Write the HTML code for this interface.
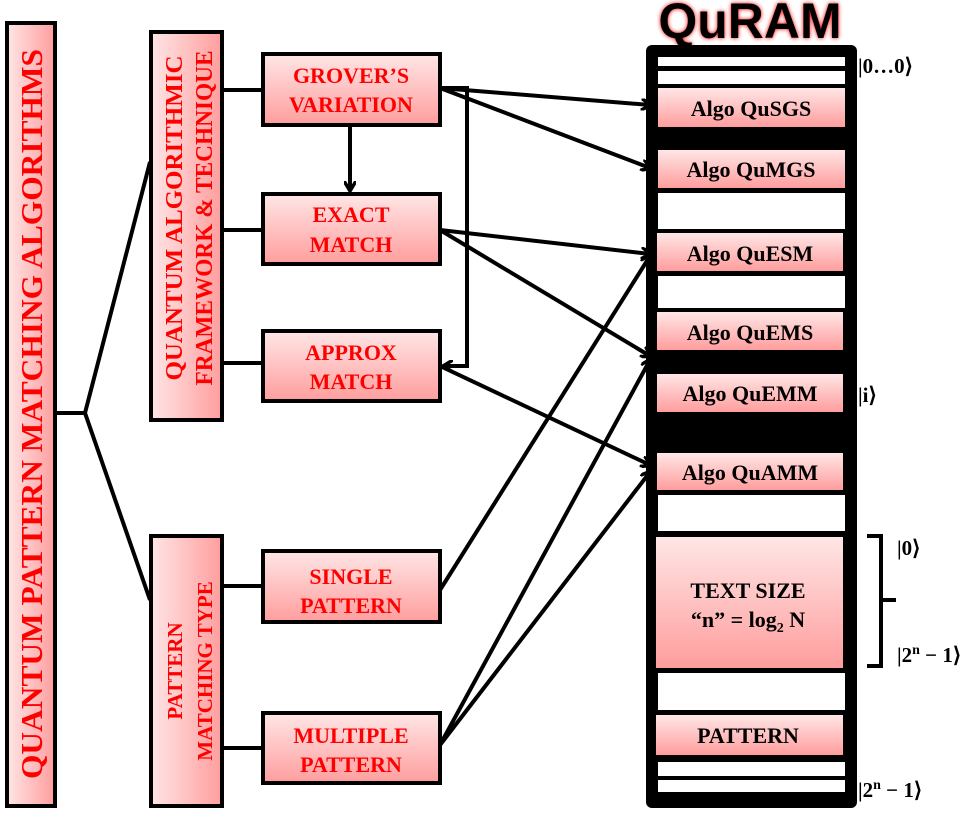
<!DOCTYPE html>
<html><head><meta charset="utf-8"><style>body{margin:0;background:#fff}svg{display:block}</style></head><body>
<svg width="969" height="816" viewBox="0 0 969 816" xmlns="http://www.w3.org/2000/svg" font-family="Liberation Serif, serif" font-weight="bold">
<defs>
<linearGradient id="gv" x1="0" y1="0" x2="0" y2="1"><stop offset="0" stop-color="#ffe6e6"/><stop offset="1" stop-color="#ff9d9d"/></linearGradient>
<linearGradient id="gh" x1="0" y1="0" x2="1" y2="0"><stop offset="0" stop-color="#ffe6e6"/><stop offset="1" stop-color="#ff9d9d"/></linearGradient>
<marker id="ar" markerWidth="12" markerHeight="12" refX="9" refY="6" orient="auto" markerUnits="userSpaceOnUse"><path d="M0,0 L10,6 L0,12" fill="none" stroke="#000" stroke-width="3.5"/></marker>
<filter id="glow"><feDropShadow dx="0" dy="0" stdDeviation="2" flood-color="#e00"/></filter>
</defs>
<g stroke="#000" stroke-width="4">
<rect x="7" y="23" width="48" height="783" fill="url(#gh)"/>
<rect x="151" y="32" width="71" height="388" fill="url(#gh)"/>
<rect x="151" y="536" width="71" height="270" fill="url(#gh)"/>
<rect x="263" y="54" width="177" height="71" fill="url(#gv)"/>
<rect x="263" y="194" width="177" height="70" fill="url(#gv)"/>
<rect x="263" y="331" width="177" height="70" fill="url(#gv)"/>
<rect x="263" y="551" width="177" height="71" fill="url(#gv)"/>
<rect x="263" y="713" width="177" height="70" fill="url(#gv)"/>
</g>
<g stroke="#000" stroke-width="4" fill="none">
<path d="M55,413 H85 M85,413 L150,162 M85,413 L150,600"/>
<path d="M224,90 H263 M224,230 H263 M224,363 H263 M224,586 H263 M224,748 H263"/>
<path d="M350,125 V190" marker-end="url(#ar)"/>
<path d="M440,88 H467 V366 H444" marker-end="url(#ar)"/>
<path d="M440,88 L650,105" marker-end="url(#ar)"/>
<path d="M440,88 L650,168" marker-end="url(#ar)"/>
<path d="M440,230 L650,254" marker-end="url(#ar)"/>
<path d="M440,230 L650,356" marker-end="url(#ar)"/>
<path d="M440,366 L650,465" marker-end="url(#ar)"/>
<path d="M440,590 L650,256" marker-end="url(#ar)"/>
<path d="M440,745 L650,360" marker-end="url(#ar)"/>
<path d="M440,745 L650,472" marker-end="url(#ar)"/>
</g>
<g fill="#ff0000" text-anchor="middle">
<text transform="translate(42,414) rotate(-90)" font-size="31" textLength="730" lengthAdjust="spacingAndGlyphs">QUANTUM PATTERN MATCHING ALGORITHMS</text>
<text transform="translate(182,218) rotate(-90)" font-size="24" textLength="325" lengthAdjust="spacingAndGlyphs">QUANTUM ALGORITHMIC</text>
<text transform="translate(212,218) rotate(-90)" font-size="24" textLength="335" lengthAdjust="spacingAndGlyphs">FRAMEWORK &amp; TECHNIQUE</text>
<text transform="translate(182,671) rotate(-90)" font-size="21">PATTERN</text>
<text transform="translate(212,671) rotate(-90)" font-size="21">MATCHING TYPE</text>
<g font-size="22">
<text x="351" y="83">GROVER’S</text><text x="351" y="112">VARIATION</text>
<text x="351" y="222">EXACT</text><text x="351" y="252">MATCH</text>
<text x="351" y="360">APPROX</text><text x="351" y="389">MATCH</text>
<text x="351" y="584">SINGLE</text><text x="351" y="613">PATTERN</text>
<text x="351" y="743">MULTIPLE</text><text x="351" y="772">PATTERN</text>
</g>
</g>
<text x="750" y="38" text-anchor="middle" font-family="Liberation Sans, sans-serif" font-size="50" font-weight="bold" fill="#000" filter="url(#glow)">QuRAM</text>
<rect x="646" y="45" width="211" height="763" rx="6" fill="#000"/>
<g fill="#fff">
<rect x="658" y="57" width="187" height="9"/><rect x="658" y="71" width="187" height="13"/>
<rect x="658" y="193" width="187" height="36"/><rect x="658" y="276" width="187" height="32"/>
<rect x="658" y="495" width="187" height="36"/><rect x="658" y="673" width="187" height="37"/>
<rect x="658" y="762" width="187" height="14"/><rect x="658" y="780" width="187" height="12"/>
</g>
<g fill="url(#gv)">
<rect x="658" y="88" width="187" height="39"/><rect x="658" y="150" width="187" height="38"/>
<rect x="657" y="233" width="186" height="38"/><rect x="657" y="312" width="186" height="38"/>
<rect x="657" y="374" width="186" height="38"/><rect x="657" y="453" width="186" height="37"/>
<rect x="656" y="537" width="187" height="131"/><rect x="656" y="715" width="187" height="40"/>
</g>
<g fill="#000" font-size="22" text-anchor="middle">
<text x="751" y="116">Algo QuSGS</text><text x="751" y="177">Algo QuMGS</text>
<text x="750" y="261">Algo QuESM</text><text x="750" y="340">Algo QuEMS</text>
<text x="750" y="401">Algo QuEMM</text><text x="750" y="480">Algo QuAMM</text>
<text x="748" y="598">TEXT SIZE</text><text x="748" y="627">“n” = log<tspan font-size="14" dy="5">2</tspan><tspan dy="-5"> N</tspan></text>
<text x="748" y="743">PATTERN</text>
</g>
<g fill="#000" font-size="21">
<text x="858" y="73">|0…0⟩</text><text x="858" y="402">|i⟩</text>
<text x="897" y="555">|0⟩</text><text x="897" y="662">|2<tspan font-size="14" dy="-8">n</tspan><tspan dy="8"> − 1⟩</tspan></text>
<text x="858" y="797">|2<tspan font-size="14" dy="-8">n</tspan><tspan dy="8"> − 1⟩</tspan></text>
</g>
<path d="M867,536 H881 V600 H896 M881,600 V666 H867" fill="none" stroke="#000" stroke-width="4"/>
</svg>
</body></html>
